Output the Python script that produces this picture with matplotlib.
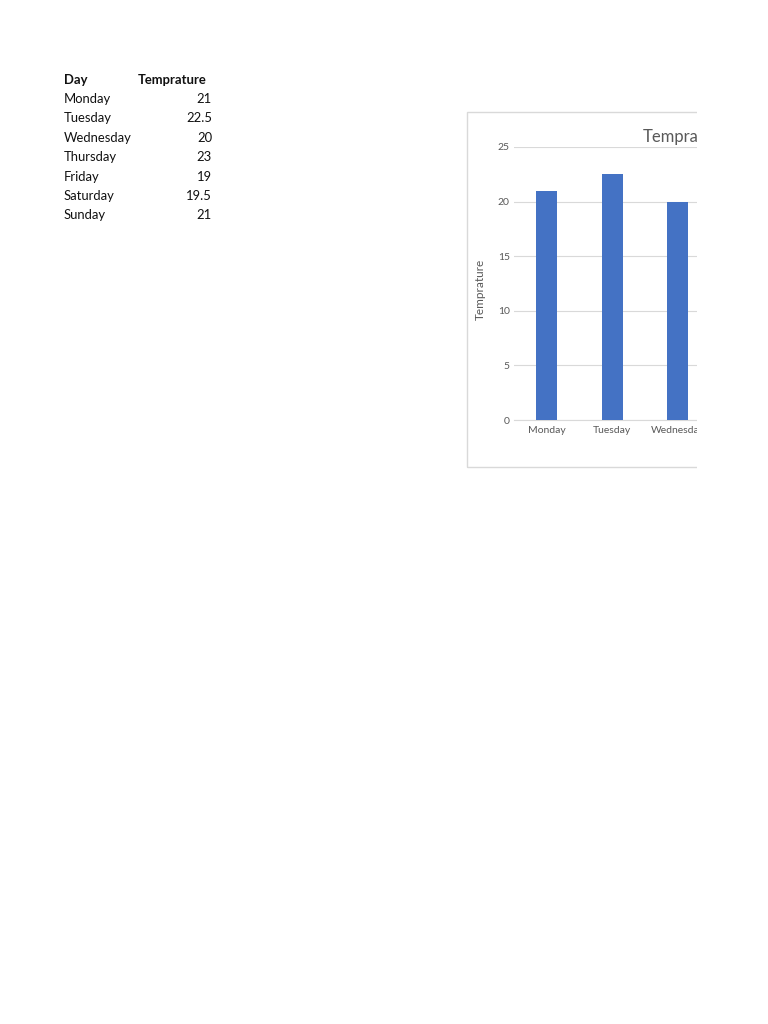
import matplotlib
matplotlib.use('Agg')
import matplotlib.pyplot as plt
from matplotlib.patches import Rectangle

days = ['Monday', 'Tuesday', 'Wednesday', 'Thursday', 'Friday', 'Saturday', 'Sunday']
temps = [21, 22.5, 20, 23, 19, 19.5, 21]
temp_labels = ['21', '22.5', '20', '23', '19', '19.5', '21']
yticks = [0, 5, 10, 15, 20, 25]

W, H = 768, 1024
plt.rcParams['font.family'] = ['Lato', 'DejaVu Sans']
fig = plt.figure(figsize=(W / 100, H / 100), dpi=100)
fig.patch.set_facecolor('white')

def fx(px):
    return px / W

def fy(py):
    return 1 - py / H

# spreadsheet cells
text_col = '#111111'
fig.text(fx(64), fy(80), 'Day', fontsize=9.4, fontweight='bold', color=text_col, va='center')
fig.text(fx(138), fy(80), 'Temprature', fontsize=9.4, fontweight='bold', color=text_col, va='center')
row_y = [99, 118, 138, 157, 177, 196, 215]
for y, d, t in zip(row_y, days, temp_labels):
    fig.text(fx(64), fy(y), d, fontsize=9.4, color=text_col, va='center')
    fig.text(fx(212), fy(y), t, fontsize=9.4, color=text_col, va='center', ha='right')

# chart frame
grey = '#D9D9D9'
fig.patches.append(Rectangle((fx(467), fy(467)), fx(500), (467 - 112) / H,
                             transform=fig.transFigure, fill=False,
                             edgecolor=grey, linewidth=1, zorder=1))

cat_w = 65.5
ax = fig.add_axes([fx(514), fy(420), fx(cat_w * 7), (420 - 147) / H])
ax.set_facecolor('none')
ax.bar(range(len(days)), temps, width=0.32, color='#4472C4', zorder=3)
ax.set_xlim(-0.5, 6.5)
ax.set_ylim(0, 25)
ax.set_yticks(yticks)
ax.set_xticks(range(len(days)))
ax.set_xticklabels(days)
ax.yaxis.grid(True, color=grey, linewidth=0.8, zorder=0)
ax.set_axisbelow(True)
for s in ['top', 'right', 'left']:
    ax.spines[s].set_visible(False)
ax.spines['bottom'].set_color(grey)
ax.tick_params(axis='both', length=0, labelsize=7.5, colors='#595959')
ax.tick_params(axis='y', pad=3)
ax.tick_params(axis='x', pad=4)
ax.set_ylabel('Temprature', fontsize=8.5, color='#595959')
ax.yaxis.set_label_coords(-(514 - 480) / (cat_w * 7), (420 - 289) / (420 - 147))
ax.yaxis.label.set_va('center')
fig.text(fx(643), fy(137), 'Temprature', fontsize=12, color='#595959', va='center', ha='left')

# page edge cuts the chart off
fig.patches.append(Rectangle((fx(697), 0), 1, 1, transform=fig.transFigure,
                             facecolor='white', edgecolor='none', zorder=10))

fig.savefig('out.png', dpi=100)
